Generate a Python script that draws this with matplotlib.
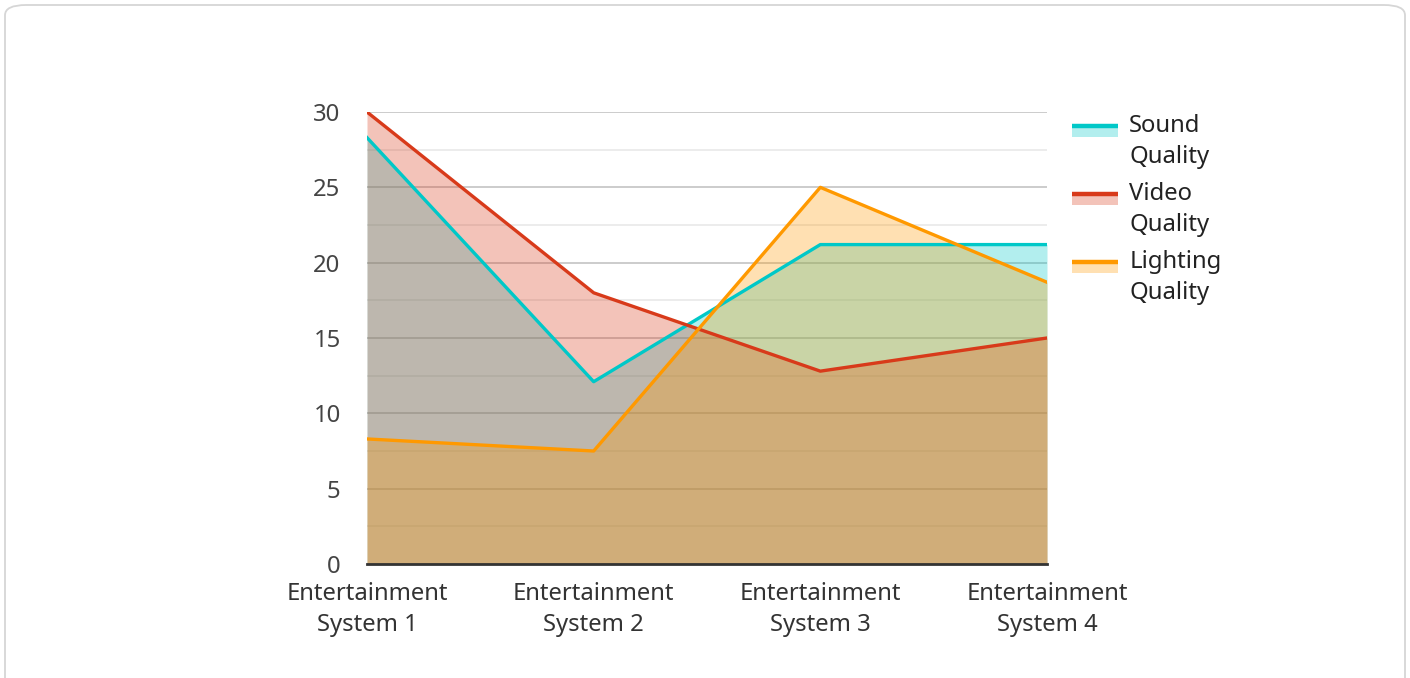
import matplotlib
matplotlib.use("Agg")
import matplotlib.pyplot as plt
from matplotlib.patches import Rectangle, FancyBboxPatch
from matplotlib.lines import Line2D
from matplotlib.legend_handler import HandlerBase
from matplotlib.ticker import MultipleLocator

plt.rcParams['font.family'] = ['Noto Sans', 'DejaVu Sans']

systems = ["Entertainment\nSystem 1", "Entertainment\nSystem 2",
           "Entertainment\nSystem 3", "Entertainment\nSystem 4"]
sound = [28.3, 12.1, 21.2, 21.2]
video = [30, 18, 12.8, 15]
lighting = [8.3, 7.5, 25, 18.7]

series_names = ["Sound\nQuality", "Video\nQuality", "Lighting\nQuality"]
series_vals = [sound, video, lighting]
colors = ["#00c8c8", "#d83a1a", "#ff9900"]

FS = 17.2


class AreaHandler(HandlerBase):
    # line on top, pale fill underneath, like the reference legend
    def create_artists(self, legend, orig_handle, xdescent, ydescent,
                       width, height, fontsize, trans):
        c = orig_handle.get_color()
        top = height + 0.42 * fontsize
        rect = Rectangle((-xdescent, top - 0.55 * fontsize), width, 0.45 * fontsize,
                         facecolor=c, alpha=0.3, edgecolor="none", transform=trans)
        line = Line2D([-xdescent, -xdescent + width], [top - 0.1 * fontsize] * 2,
                      color=c, lw=3.2, solid_capstyle="butt", transform=trans)
        return [rect, line]


fig = plt.figure(figsize=(14.1, 6.78), dpi=100)
fig.patches.append(FancyBboxPatch((5 / 1410, -0.02), 1400 / 1410, 1 - 5 / 678 + 0.02,
                                  boxstyle="round,pad=0,rounding_size=0.015",
                                  transform=fig.transFigure, facecolor="white",
                                  edgecolor="#d6d6d6", lw=1.3, zorder=-10))

ax = fig.add_axes([367 / 1410, 1 - 564 / 678, 680 / 1410, 452 / 678])
ax.set_facecolor("none")
x = list(range(len(systems)))

for vals, c in zip(series_vals, colors):
    ax.fill_between(x, 0, vals, color=c, alpha=0.3, lw=0, zorder=2)
handles = []
for vals, c, name in zip(series_vals, colors, series_names):
    ln, = ax.plot(x, vals, color=c, lw=2.4, zorder=3, label=name)
    handles.append(ln)

ax.set_xlim(0, 3)
ax.set_ylim(0, 30)
ax.yaxis.set_major_locator(MultipleLocator(5))
ax.yaxis.set_minor_locator(MultipleLocator(2.5))
ax.grid(which="major", axis="y", color="#c8c8c8", lw=1.3, zorder=1)
ax.grid(which="minor", axis="y", color="#ebebeb", lw=1.3, zorder=1)
ax.set_xticks(x)
ax.set_xticklabels(systems, fontsize=FS, color="#333333", linespacing=1.38)
ax.tick_params(axis="x", length=0, pad=13)
ax.tick_params(axis="y", which="both", length=0, pad=19, labelsize=FS, labelcolor="#444444")
for s in ["top", "right", "left"]:
    ax.spines[s].set_visible(False)
ax.spines["bottom"].set_color("#333333")
ax.spines["bottom"].set_linewidth(2)
ax.spines["bottom"].set_zorder(4)

leg = ax.legend(handles=handles, labels=series_names,
                handler_map={Line2D: AreaHandler()},
                loc="upper left", bbox_to_anchor=(1.005, 1.043), frameon=False,
                fontsize=FS, handlelength=1.95, handletextpad=0.45, labelspacing=0.55)
for t in leg.get_texts():
    t.set_linespacing(1.38)
    t.set_color("#222222")

fig.savefig("out.png", dpi=100)
